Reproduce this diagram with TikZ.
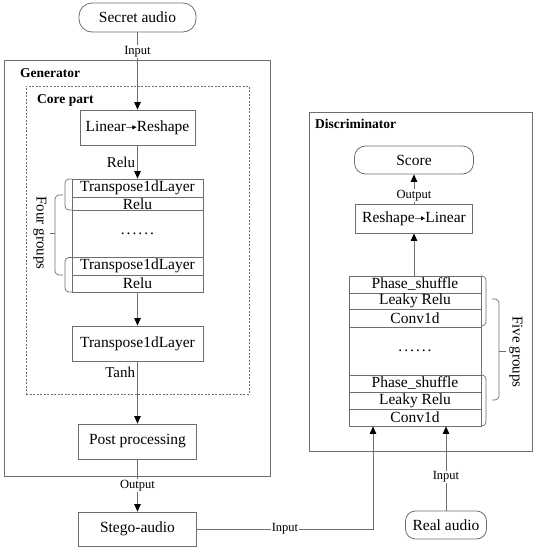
\documentclass[tikz,border=0pt]{standalone}
\usepackage{fontspec}
\setmainfont{Liberation Serif}
\usetikzlibrary{arrows.meta}
\definecolor{lc}{HTML}{6E6E6E}
\newcommand{\inarr}{\tikz[baseline=-0.55ex]\draw[lc,line width=0.7pt,-{Triangle[length=4pt,width=4pt,color=black]}] (0pt,0pt)--(10pt,0pt);}
\newcommand{\mydots}{.\kern2pt.\kern2pt.\kern2pt.\kern2pt.\kern2pt.}
\begin{document}
\begin{tikzpicture}[x=1pt,y=-1pt,
  box/.style={draw=lc,line width=0.8pt,rectangle,inner sep=0pt,font=\fontsize{15.5}{17}\selectfont},
  pill/.style={box,rounded corners=13pt},
  frame/.style={draw=lc,line width=0.8pt,rectangle,inner sep=0pt},
  title/.style={font=\fontsize{13.5}{15}\selectfont\bfseries,anchor=west,inner sep=0pt},
  lab/.style={font=\fontsize{12.5}{13}\selectfont,fill=white,inner sep=1pt},
  biglab/.style={font=\fontsize{15}{16}\selectfont,inner sep=2pt},
  arr/.style={draw=lc,line width=0.8pt,-{Triangle[length=7.5pt,width=6.5pt,color=black]}},
  brace/.style={draw=lc,line width=0.7pt,rounded corners=4pt}]
\useasboundingbox (0,0) rectangle (537,550);
% frames
\node[frame,minimum width=266pt,minimum height=416pt] (gen) at (137,268) {};
\node[frame,dash pattern=on 2pt off 1.5pt,minimum width=223pt,minimum height=308pt] (core) at (137.5,240) {};
\node[frame,minimum width=223pt,minimum height=339pt] (disc) at (420.5,281.5) {};
\node[title] (gent) at (20,73) {Generator};
\node[title] (coret) at (37,100) {Core part};
\node[title] (disct) at (315,124) {Discriminator};
% generator side
\node[pill,minimum width=117pt,minimum height=29pt] (secret) at (137.5,17.5) {Secret audio};
\node[box,minimum width=115pt,minimum height=35pt] (linres) at (137.5,127.5) {Linear\inarr Reshape};
\node[box,minimum width=131pt,minimum height=18pt] (g1) at (137.5,188) {Transpose1dLayer};
\node[box,minimum width=131pt,minimum height=13.5pt] (g2) at (137.5,203.75) {Relu};
\node[box,minimum width=131pt,minimum height=47pt] (g3) at (137.5,234) {\mydots};
\node[box,minimum width=131pt,minimum height=17.5pt] (g4) at (137.5,266.25) {Transpose1dLayer};
\node[box,minimum width=131pt,minimum height=17pt] (g5) at (137.5,283.5) {Relu};
\node[box,minimum width=131pt,minimum height=35pt] (tr) at (137.5,343.5) {Transpose1dLayer};
\node[box,minimum width=118pt,minimum height=35pt] (post) at (137.5,441.5) {Post processing};
\node[box,minimum width=118pt,minimum height=34pt] (stego) at (137.5,529) {Stego-audio};
% braces generator
\draw[brace] (72,179) -- (65,179) -- (65,210) -- (72,210);
\draw[brace] (72,257.5) -- (65,257.5) -- (65,292) -- (72,292);
\draw[brace] (63,195) -- (55,195) -- (55,275) -- (63,275);
\draw[draw=lc,line width=0.7pt] (55,233) -- (50,233);
\node[biglab,rotate=-90] (four) at (40,233) {Four groups};
% discriminator side
\node[pill,rounded corners=11pt,minimum width=119pt,minimum height=28pt] (score) at (414,160) {Score};
\node[box,minimum width=117pt,minimum height=29pt] (resh) at (414,218.5) {Reshape\inarr Linear};
\node[box,minimum width=132pt,minimum height=17pt] (d1) at (415,284.5) {Phase\_shuffle};
\node[box,minimum width=132pt,minimum height=16pt] (d2) at (415,301) {Leaky Relu};
\node[box,minimum width=132pt,minimum height=18pt] (d3) at (415,318) {Conv1d};
\node[box,minimum width=132pt,minimum height=48pt] (d4) at (415,351) {\mydots};
\node[box,minimum width=132pt,minimum height=17pt] (d5) at (415,383.5) {Phase\_shuffle};
\node[box,minimum width=132pt,minimum height=17pt] (d6) at (415,400.5) {Leaky Relu};
\node[box,minimum width=132pt,minimum height=17pt] (d7) at (415,417.5) {Conv1d};
\node[pill,rounded corners=10pt,minimum width=81pt,minimum height=28pt] (real) at (446,525) {Real audio};
% braces discriminator
\draw[brace] (481,276) -- (486,276) -- (486,326) -- (481,326);
\draw[brace] (481,375) -- (486,375) -- (486,426) -- (481,426);
\draw[brace] (492,299) -- (499,299) -- (499,400) -- (492,400);
\draw[draw=lc,line width=0.7pt] (499,351) -- (506,351);
\node[biglab,rotate=-90] (five) at (516,352) {Five groups};
% connectors generator
\draw[arr] (secret) -- node[lab,pos=0.25] {Input} (linres);
\draw[arr] (linres) -- node[biglab,left,pos=0.5] {Relu} (g1);
\draw[arr] (g5) -- (tr);
\draw[arr] (tr) -- node[biglab,left,pos=0.17] {Tanh} (post);
\draw[arr] (post) -- node[lab,pos=0.5] {Output} (stego);
% connectors discriminator
\coordinate (c1) at (373,529);
\draw[arr] (stego.east) -- node[lab,pos=0.5] {Input} (c1) -- (d7.south -| c1);
\draw[arr] (real.north) -- node[lab,pos=0.4] {Input} (d7.south -| real.north);
\draw[arr] (d1.north -| resh) -- (resh.south);
\draw[arr] (resh) -- node[lab,pos=0.27] {Output} (score);
\end{tikzpicture}
\end{document}
